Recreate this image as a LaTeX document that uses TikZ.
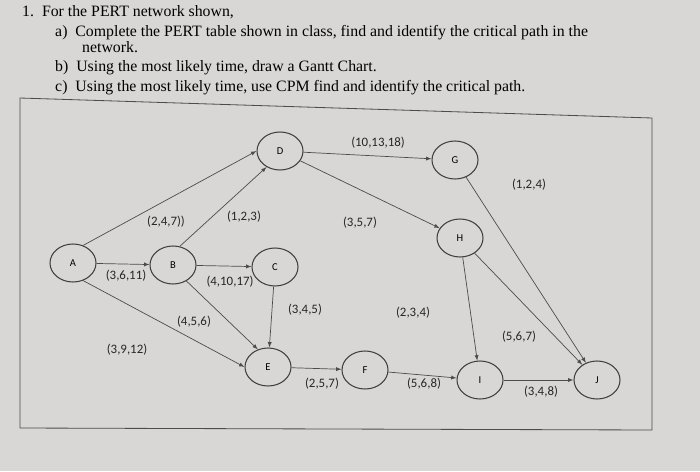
\documentclass[tikz,border=0pt]{standalone}
\usepackage{fontspec}
\usetikzlibrary{shapes.geometric}
\setmainfont{Liberation Serif}
\newfontfamily\lab{Carlito}
\begin{document}
\begin{tikzpicture}[x=0.03cm,y=-0.03cm,
 ev/.style={draw,ellipse,minimum width=46*0.03cm,minimum height=38*0.03cm,inner sep=0pt,font=\lab\fontsize{9}{10}\selectfont,line width=0.9pt,draw=black!75},
 arr/.style={-latex,draw=black!70,line width=0.6pt},
 lb/.style={font=\lab\fontsize{11}{12}\selectfont,text=black!85},
 tl/.style={anchor=west,font=\fontsize{13.5}{15}\selectfont,inner sep=0pt}]
\fill[white!92!brown!40!gray!50] (0,0) rectangle (700,471);
\useasboundingbox (0,0) rectangle (700,471);
\node[tl] (t1) at (22,12) {1.\ \ For the PERT network shown,};
\node[tl] (t2) at (55,33) {a)\ \ Complete the PERT table shown in class, find and identify the critical path in the};
\node[tl] (t3) at (82,47) {network.};
\node[tl] (t4) at (55,68) {b)\ \ Using the most likely time, draw a Gantt Chart.};
\node[tl] (t5) at (55,88) {c)\ \ Using the most likely time, use CPM find and identify the critical path.};
\draw[black!70,line width=0.7pt] (20,98) -- (652,118) -- (652,430) -- (20,428) -- cycle;
\node[ev] (A) at (73,263) {A};
\node[ev] (B) at (173,265) {B};
\node[ev] (C) at (275,267) {C};
\node[ev] (D) at (280,151) {D};
\node[ev] (E) at (268,367) {E};
\node[ev] (F) at (365,370) {F};
\node[ev] (G) at (455,160) {G};
\node[ev] (H) at (460,238) {H};
\node[ev] (I) at (480,380) {I};
\node[ev] (J) at (597,380) {J};
\draw[arr] (A.60) -- (D.west);
\draw[arr] (A) -- (B);
\draw[arr] (A.-60) -- (E.west);
\draw[arr] (B.70) -- (D.230);
\draw[arr] (B) -- (C);
\draw[arr] (B.-50) -- (E.120);
\draw[arr] (C) -- (E);
\draw[arr] (D) -- (G);
\draw[arr] (D) -- (H);
\draw[arr] (E) -- (F);
\draw[arr] (F) -- (I);
\draw[arr] (H) -- (I);
\draw[arr] (H) -- (J);
\draw[arr] (G) -- (J);
\draw[arr] (I) -- (J);
\node[lb] (l1) at (166,222) {(2,4,7))};
\node[lb] (l2) at (244,217) {(1,2,3)};
\node[lb] (l3) at (126,276) {(3,6,11)};
\node[lb] (l4) at (230,282) {(4,10,17)};
\node[lb] (l5) at (194,322) {(4,5,6)};
\node[lb] (l6) at (305,310) {(3,4,5)};
\node[lb] (l7) at (127,350) {(3,9,12)};
\node[lb] (l8) at (378,143) {(10,13,18)};
\node[lb] (l9) at (360,223) {(3,5,7)};
\node[lb] (l10) at (529,185) {(1,2,4)};
\node[lb] (l11) at (413,313) {(2,3,4)};
\node[lb] (l12) at (519,337) {(5,6,7)};
\node[lb] (l13) at (322,384) {(2,5,7)};
\node[lb] (l14) at (424,384) {(5,6,8)};
\node[lb] (l15) at (541,392) {(3,4,8)};
\end{tikzpicture}
\end{document}
